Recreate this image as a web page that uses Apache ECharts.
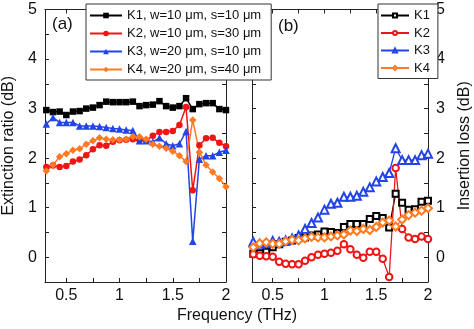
<!DOCTYPE html>
<html>
<head>
<meta charset="utf-8">
<script src="https://cdn.jsdelivr.net/npm/echarts@6/dist/echarts.min.js"></script>
<style>html,body{margin:0;padding:0;background:#fff}#c{width:474px;height:329px}</style>
</head>
<body>
<div id="c"></div>
<script>
// Frequency sample points (THz)
const freq = [0.3125,0.375,0.4375,0.5,0.5625,0.625,0.6875,0.75,0.8125,0.875,0.9375,1.0,1.0625,1.125,1.1875,1.25,1.3125,1.375,1.4375,1.5,1.5625,1.625,1.6875,1.75,1.8125,1.875,1.9375,2.0];

// (a) Extinction ratio (dB)
const erK1 = [2.97,2.93,2.94,2.87,2.94,2.95,3.0,3.02,3.07,3.14,3.13,3.13,3.13,3.14,3.05,3.07,3.08,3.15,3.05,3.02,3.05,3.21,2.99,3.09,3.11,3.11,2.99,2.97];
const erK2 = [1.82,1.85,1.82,1.84,1.93,1.97,2.06,2.18,2.26,2.25,2.33,2.36,2.37,2.38,2.36,2.36,2.45,2.53,2.53,2.55,2.67,3.03,1.35,2.26,2.40,2.41,2.31,2.24];
const erK3 = [2.69,2.82,2.72,2.72,2.72,2.65,2.65,2.65,2.64,2.62,2.60,2.59,2.57,2.56,2.35,2.35,2.33,2.41,2.29,2.25,2.29,2.54,0.32,1.98,2.05,2.05,2.12,2.16];
const erK4 = [1.74,1.86,2.03,2.09,2.16,2.19,2.28,2.35,2.41,2.38,2.37,2.37,2.38,2.43,2.43,2.38,2.28,2.24,2.20,2.14,2.05,1.93,2.77,2.12,1.86,1.72,1.59,1.42];

// (b) Insertion loss (dB)
const ilK1 = [0.07,0.08,0.11,0.20,0.26,0.31,0.34,0.39,0.40,0.44,0.46,0.52,0.51,0.49,0.61,0.67,0.67,0.67,0.77,0.83,0.79,0.60,1.28,1.10,0.96,0.97,1.12,1.14];
const ilK2 = [0.06,0.03,0.02,0.01,-0.09,-0.13,-0.14,-0.14,-0.07,0.0,0.05,0.07,0.09,0.13,0.26,0.16,0.05,-0.01,0.11,0.11,-0.03,-0.40,1.80,0.57,0.40,0.37,0.42,0.37];
const ilK3 = [0.31,0.27,0.28,0.33,0.31,0.34,0.38,0.44,0.57,0.69,0.80,0.96,1.08,1.10,1.22,1.22,1.24,1.32,1.41,1.53,1.62,1.70,2.20,1.96,1.96,1.96,2.06,2.09];
const ilK4 = [0.20,0.28,0.30,0.27,0.27,0.32,0.35,0.34,0.38,0.41,0.40,0.40,0.42,0.44,0.46,0.54,0.53,0.57,0.55,0.61,0.70,0.74,0.62,0.76,0.85,0.90,0.94,0.99];

// Legend names
const namesA = ['K1, w=10 \u03bcm, s=10 \u03bcm','K2, w=10 \u03bcm, s=30 \u03bcm','K3, w=20 \u03bcm, s=10 \u03bcm','K4, w=20 \u03bcm, s=40 \u03bcm'];
const namesB = ['K1','K2','K3','K4'];

// Tick values and labels
const xTicks = [0.5,0.75,1,1.25,1.5,1.75];
const xLabels = [0.5,1,1.5,2];
const yTicks = [0,0.5,1,1.5,2,2.5,3,3.5,4,4.5];
const yLabels = [0,1,2,3,4,5];

const FONT = 'Liberation Sans, Arial, Helvetica, sans-serif';
const colors = ['#000000','#f01414','#2244e8','#ff7a22'];
const AX = '#222';

function pairs(arr){ return freq.map((f,i)=>[f, arr[i]]); }

function xAx(grid, pos, labels){
  return {
    type:'value', gridIndex:grid, position:pos, min:0.3, max:2,
    axisLine:{show:true, onZero:false, lineStyle:{color:AX, width:1}},
    axisTick:{show:true, inside:true, length:4, customValues:xTicks, lineStyle:{color:AX}},
    axisLabel:{show:labels, customValues:xLabels, fontSize:16, fontFamily:FONT, color:'#111', margin:6},
    splitLine:{show:false}
  };
}
function yAx(grid, pos, labels, name, gap){
  return {
    type:'value', gridIndex:grid, position:pos, min:-0.5, max:5,
    name: name || '', nameLocation:'middle', nameGap: gap || 0,
    nameTextStyle:{fontSize:16, fontFamily:FONT, color:'#111'},
    axisLine:{show:true, onZero:false, lineStyle:{color:AX, width:1}},
    axisTick:{show:true, inside:true, length:4, customValues:yTicks, lineStyle:{color:AX}},
    axisLabel:{show:labels, customValues:yLabels, fontSize:16, fontFamily:FONT, color:'#111', margin:8},
    splitLine:{show:false}
  };
}

const symA = ['rect','circle','triangle','diamond'];
const sizeA = [6.5,6.5,7.5,7.5];
const symB = ['emptyRect','emptyCircle','emptyTriangle','emptyDiamond'];
const sizeB = [6,6.5,8,8];
const dataA = [erK1,erK2,erK3,erK4];
const dataB = [ilK1,ilK2,ilK3,ilK4];

const series = [];
dataA.forEach((d,i)=>series.push({
  name:namesA[i], type:'line', xAxisIndex:0, yAxisIndex:0, data:pairs(d),
  symbol:symA[i], symbolSize:sizeA[i], showAllSymbol:true,
  lineStyle:{color:colors[i], width:1.5}, itemStyle:{color:colors[i]}
}));
dataB.forEach((d,i)=>series.push({
  name:namesB[i], type:'line', xAxisIndex:2, yAxisIndex:2, data:pairs(d),
  symbol:symB[i], symbolSize:sizeB[i], showAllSymbol:true,
  lineStyle:{color:colors[i], width:1.3}, itemStyle:{color:colors[i], borderWidth:1}
}));

const chart = echarts.init(document.getElementById('c'), null, {renderer:'canvas'});
chart.setOption({
  animation:false,
  backgroundColor:'#fff',
  grid:[
    {left:44, right:248, top:9.5, bottom:47},
    {left:252, right:41, top:9.5, bottom:47}
  ],
  xAxis:[xAx(0,'bottom',true), xAx(0,'top',false), xAx(1,'bottom',true), xAx(1,'top',false)],
  yAxis:[yAx(0,'left',true,'Extinction ratio (dB)',28), yAx(0,'right',false), yAx(1,'right',true,'Insertion loss (dB)',29), yAx(1,'left',false)],
  legend:[
    {data:namesA, orient:'vertical', left:86, top:4, itemWidth:32, itemHeight:7, itemGap:5,
     padding:[5,10,4,3], backgroundColor:'#fff', borderColor:'#333', borderWidth:1, borderRadius:0,
     selectedMode:false, textStyle:{fontSize:13, fontFamily:FONT, color:'#111', lineHeight:13}},
    {data:namesB, orient:'vertical', left:378, top:4, itemWidth:28, itemHeight:5, itemGap:4.5,
     itemStyle:{borderWidth:1},
     padding:[5,8,4,2], backgroundColor:'#fff', borderColor:'#333', borderWidth:1, borderRadius:0,
     selectedMode:false, textStyle:{fontSize:13, fontFamily:FONT, color:'#111', lineHeight:13}}
  ],
  graphic:[
    {type:'text', left:52, top:16, style:{text:'(a)', font:'17px '+FONT, fill:'#111'}},
    {type:'text', left:278, top:18, style:{text:'(b)', font:'17px '+FONT, fill:'#111'}},
    {type:'text', left:'center', top:308, style:{text:'Frequency (THz)', font:'16px '+FONT, fill:'#111'}}
  ],
  series:series
});
</script>
</body>
</html>
